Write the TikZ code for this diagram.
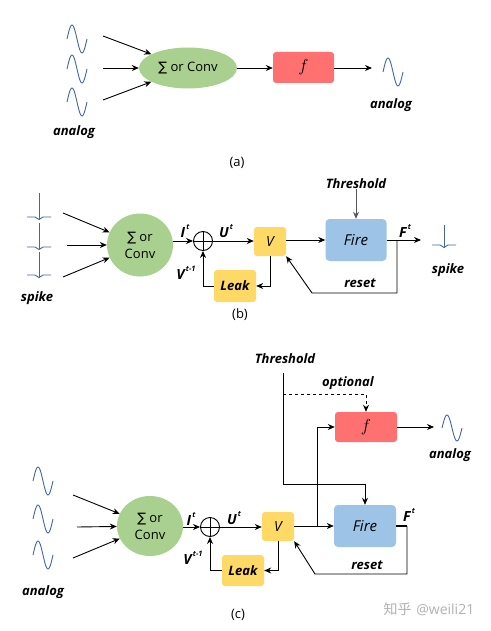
\documentclass[tikz,border=0pt]{standalone}
\usepackage{fontspec}
\setsansfont{Open Sans}
\newfontfamily\dejavu{DejaVu Sans}
\newfontfamily\cjkfont{Noto Sans CJK SC}
\usetikzlibrary{arrows.meta,shapes.geometric}
\definecolor{sigblue}{RGB}{70,100,170}
\definecolor{cgreen}{RGB}{169,208,142}
\definecolor{cred}{RGB}{255,112,112}
\definecolor{cyellow}{RGB}{255,217,102}
\definecolor{cblue}{RGB}{157,195,230}
\newcommand\mywave[3]{\draw[sig] plot[domain=0:360,samples=40,variable=\t] ({#1+(\t/360-0.5)*20},{#2-#3*sin(\t)});}
\newcommand\myspike[3]{\draw[sig] ({#1-12},#2) -- ({#1-4},#2) -- (#1,{#2+2.5}) -- ({#1+4},#2) -- ({#1+12},#2);
  \draw[sig] (#1,{#2+2.5}) -- (#1,{#2-#3});}
\newcommand\hsup[1]{\raisebox{1.1ex}{\fontsize{7.5}{8}\selectfont\,#1}}
\begin{document}
\begin{tikzpicture}[x=1pt,y=-1pt,
  sig/.style={draw=sigblue,line width=0.9pt},
  arr/.style={-{Stealth[length=7pt,width=6pt]},line width=0.9pt},
  ln/.style={line width=0.9pt},
  lab/.style={font=\sffamily\bfseries\itshape\fontsize{13}{15}\selectfont,inner sep=0},
  slab/.style={font=\sffamily\bfseries\itshape\fontsize{14}{16}\selectfont,inner sep=0},
  captxt/.style={font=\sffamily\fontsize{13}{15}\selectfont,inner sep=0},
  sumnode/.style={ellipse,fill=cgreen,inner sep=0,font=\sffamily\fontsize{13}{17}\selectfont,align=center},
  fbox/.style={fill=cred,rounded corners=3pt,inner sep=0,minimum width=61pt,minimum height=31pt,font=\fontsize{19}{21}\selectfont},
  vbox/.style={fill=cyellow,rounded corners=3pt,inner sep=0,minimum width=32pt,minimum height=29pt,font=\sffamily\itshape\fontsize{14}{16}\selectfont},
  leakbox/.style={fill=cyellow,rounded corners=3pt,inner sep=0,minimum width=42pt,minimum height=32pt,font=\sffamily\bfseries\itshape\fontsize{13}{15}\selectfont},
  firebox/.style={fill=cblue,rounded corners=4pt,inner sep=0,minimum width=61pt,minimum height=42pt,font=\sffamily\itshape\fontsize{15}{17}\selectfont},
  opnode/.style={circle,draw,line width=0.9pt,minimum size=19pt,inner sep=0}]
\fill[white] (0,0) rectangle (490,631);
\useasboundingbox (0,0) rectangle (490,631);

% ---------------- (a)
\mywave{77}{39}{14}
\mywave{77}{69}{14}
\mywave{77}{102}{14}
\coordinate (ia1) at (103,36);
\coordinate (ia2) at (103,68);
\coordinate (ia3) at (103,100);
\node[sumnode,minimum width=98pt,minimum height=41pt] (sumA) at (188,68) {{\dejavu ∑} or Conv};
\draw[arr] (ia1) -- (sumA);
\draw[arr] (ia2) -- (sumA);
\draw[arr] (ia3) -- (sumA);
\node[fbox] (fA) at (303.5,67.5) {$f$};
\draw[arr] (sumA.east) -- (sumA.east -| fA.west);
\coordinate (oa) at (372,68);
\draw[arr] (fA.east |- oa) -- (oa);
\mywave{393}{72}{14}
\node[lab] (anA1) at (74,132) {analog};
\node[lab] (anA2) at (391,105) {analog};
\node[captxt] (capA) at (237,163) {(a)};

% ---------------- (b)
\myspike{39}{217}{24}
\myspike{39}{247}{24}
\myspike{39}{275}{23}
\coordinate (ib1) at (63,213);
\coordinate (ib2) at (67,245);
\coordinate (ib3) at (63,277);
\node[sumnode,minimum width=66pt,minimum height=63pt] (sumB) at (140,245) {{\dejavu ∑} or\\Conv};
\draw[arr] (ib1) -- (sumB);
\draw[arr] (ib2) -- (sumB);
\draw[arr] (ib3) -- (sumB);
\node[opnode] (opB) at (203,241) {};
\draw[ln] (opB.north) -- (opB.south) (opB.west) -- (opB.east);
\draw[arr] (sumB.east |- opB) -- (opB.west);
\node[vbox] (VB) at (270,241.5) {V};
\draw[arr] (opB.east) -- (opB.east -| VB.west);
\node[firebox] (FB) at (356,240) {Fire};
\draw[arr] (VB.east |- FB) -- (FB.west);
\node[lab] (thB) at (356,184) {Threshold};
\draw[arr,black!65] (thB.south) -- (FB.north);
\coordinate (rB) at (397,240);
\coordinate (oB) at (421,240);
\draw[arr] (FB.east) -- (oB);
\coordinate (rBl) at (312,293);
\draw[arr] (rB) -- (rB |- rBl) -- (rBl) -- (VB.south east);
\node[leakbox] (LB) at (235,286) {Leak};
\draw[arr] (VB.south) -- (VB.south |- LB.east) -- (LB.east);
\draw[arr] (LB.west) -- (opB.south |- LB.west) -- (opB.south);
\myspike{444}{245}{20}
\node[slab] (IB) at (185,231) {I\hsup{t}};
\node[slab] (UB) at (226,231) {U\hsup{t}};
\node[slab] (VtB) at (186,273) {V\hsup{t-1}};
\node[slab] (FtB) at (405,231) {F\hsup{t}};
\node[lab] (reB) at (360,283) {reset};
\node[lab] (spB1) at (37,298) {spike};
\node[lab] (spB2) at (448,270) {spike};
\node[captxt] (capB) at (240,315) {(b)};

% ---------------- (c)
\mywave{43}{481}{14}
\mywave{43}{519}{14}
\mywave{43}{555}{14}
\coordinate (ic1) at (73,495);
\coordinate (ic2) at (77,527);
\coordinate (ic3) at (73,558);
\node[sumnode,minimum width=66pt,minimum height=60pt] (sumC) at (150,526) {{\dejavu ∑} or\\Conv};
\draw[arr] (ic1) -- (sumC);
\draw[arr] (ic2) -- (sumC);
\draw[arr] (ic3) -- (sumC);
\node[opnode] (opC) at (210,527) {};
\draw[ln] (opC.north) -- (opC.south) (opC.west) -- (opC.east);
\draw[arr] (sumC.east |- opC) -- (opC.west);
\node[vbox] (VC) at (278,526.5) {V};
\draw[arr] (opC.east) -- (opC.east -| VC.west);
\node[firebox,minimum width=62pt] (FC) at (365,526) {Fire};
\draw[arr] (VC.east |- FC) -- (FC.west);
\node[fbox,minimum width=62pt,minimum height=30pt] (fC) at (366,427) {$f$};
\coordinate (brC) at (317,526);
\draw[arr] (brC) |- (fC.west);
\coordinate (oC) at (434,427);
\draw[arr] (fC.east) -- (oC);
\mywave{452}{428}{13}
\node[lab] (anC2) at (450,455) {analog};
\node[lab] (thC) at (285,359) {Threshold};
\coordinate (thC1) at (283,373);
\coordinate (thC2) at (283,484);
\draw[arr] (thC1) -- (thC2) -- (thC2 -| FC.north) -- (FC.north);
\coordinate (dC) at (283,394);
\draw[arr,dashed] (dC) -- (dC -| fC.north) -- (fC.north);
\node[lab] (opt) at (348,383) {optional};
\coordinate (rC) at (407,526);
\draw[line width=1.8pt] (FC.east) -- (rC);
\coordinate (rCl) at (315,574);
\draw[arr] (rC) -- (rC |- rCl) -- (rCl) -- (VC.south east);
\node[leakbox,minimum height=31pt] (LC) at (243,570.5) {Leak};
\draw[arr] (VC.south) -- (VC.south |- LC.east) -- (LC.east);
\draw[arr] (LC.west) -- (opC.south |- LC.west) -- (opC.south);
\node[slab] (IC) at (191,519) {I\hsup{t}};
\node[slab] (UC) at (234,518) {U\hsup{t}};
\node[slab] (VtC) at (193,558) {V\hsup{t-1}};
\node[slab] (FtC) at (409,515) {F\hsup{t}};
\node[lab] (reC) at (367,565) {reset};
\node[lab] (anC1) at (43,592) {analog};
\node[captxt] (capC) at (238,615) {(c)};
\node[font=\fontsize{14}{16}\selectfont,text=black!30,inner sep=0] (wm) at (429,609) {{\cjkfont 知乎} {\sffamily @weili21}};
\end{tikzpicture}
\end{document}
